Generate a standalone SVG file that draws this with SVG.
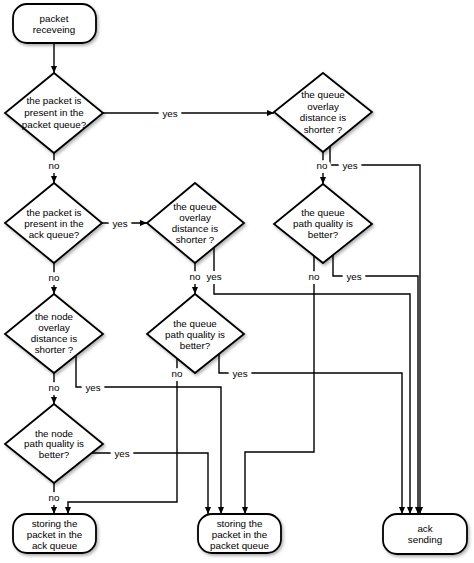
<svg xmlns="http://www.w3.org/2000/svg" width="474" height="563" viewBox="0 0 474 563">
<style>
.n{fill:#fff;stroke:#000;stroke-width:1.8;filter:url(#sh)}
.t{font-family:"Liberation Sans",Arial,sans-serif;font-size:9.8px;fill:#000;text-anchor:middle}
.c{fill:none;stroke:#000;stroke-width:1.4}
.a{marker-end:url(#ar)}
.l{font-family:"Liberation Sans",Arial,sans-serif;font-size:9.8px;fill:#000;text-anchor:middle;stroke:#fff;stroke-width:8px;stroke-linejoin:round;paint-order:stroke}
</style>
<defs>
<filter id="sh" x="-20%" y="-20%" width="140%" height="140%">
<feDropShadow dx="1.5" dy="2" stdDeviation="1.5" flood-color="#000" flood-opacity="0.3"/>
</filter>
<marker id="ar" markerUnits="userSpaceOnUse" markerWidth="8" markerHeight="7" refX="7.5" refY="3.25" orient="auto">
<path d="M0,0 L7.5,3.25 L0,6.5 z" fill="#000"/>
</marker>
</defs>
<rect width="474" height="563" fill="#fff"/>
<g id="connectors">
<path class="c a" d="M54,43 V73"/>
<path class="c a" d="M103,113 H274"/>
<path class="c a" d="M54,153 V183"/>
<path class="c a" d="M102,223 H147"/>
<path class="c a" d="M54,263 V294"/>
<path class="c a" d="M54,373 V404"/>
<path class="c a" d="M76,355.5 V387 H221 V514"/>
<path class="c a" d="M92,453 H208 V514"/>
<path class="c a" d="M54,483 V514"/>
<path class="c a" d="M323,152 V184"/>
<path class="c a" d="M330,146 V165 H420 V514"/>
<path class="c a" d="M314,256 V452 H245 V514"/>
<path class="c a" d="M333,255 V276 H418 V514"/>
<path class="c a" d="M195,263 V294"/>
<path class="c a" d="M214,247.5 V294 H410 V514"/>
<path class="c a" d="M177,358 V502 H68 V514"/>
<path class="c a" d="M219,354 V373 H402 V514"/>
<text class="l" x="170" y="116.5">yes</text>
<text class="l" x="54" y="168.5">no</text>
<text class="l" x="120" y="226.5">yes</text>
<text class="l" x="54" y="280.5">no</text>
<text class="l" x="54" y="390.5">no</text>
<text class="l" x="93" y="390.5">yes</text>
<text class="l" x="122" y="456.5">yes</text>
<text class="l" x="54" y="500.5">no</text>
<text class="l" x="322" y="168.5">no</text>
<text class="l" x="350" y="168.5">yes</text>
<text class="l" x="314" y="279.5">no</text>
<text class="l" x="354" y="279.5">yes</text>
<text class="l" x="195" y="279.5">no</text>
<text class="l" x="214" y="279.5">yes</text>
<text class="l" x="177" y="376.5">no</text>
<text class="l" x="240" y="376.5">yes</text>
</g>
<g id="start">
<rect class="n" x="13" y="4" width="83" height="39" rx="14"/>
<text class="t" x="54" y="21.5">packet</text>
<text class="t" x="54" y="32.5">receveing</text>
</g>
<g id="d1">
<path class="n" d="M54,73 L103,113 L54,153 L5,113 Z"/>
<text class="t" x="54" y="103.5">the packet is</text>
<text class="t" x="54" y="115.5">present in the</text>
<text class="t" x="54" y="127.5">packet queue?</text>
</g>
<g id="d2">
<path class="n" d="M54,183 L102,223 L54,263 L5,223 Z"/>
<text class="t" x="54" y="215.5">the packet is</text>
<text class="t" x="54" y="226.5">present in the</text>
<text class="t" x="54" y="237.5">ack queue?</text>
</g>
<g id="d3">
<path class="n" d="M54,294 L103,334 L54,373 L5,334 Z"/>
<text class="t" x="54" y="320">the node</text>
<text class="t" x="54" y="331">overlay</text>
<text class="t" x="54" y="342">distance is</text>
<text class="t" x="54" y="353">shorter ?</text>
</g>
<g id="d4">
<path class="n" d="M54,404 L103,444 L54,483 L5,444 Z"/>
<text class="t" x="54" y="436.5">the node</text>
<text class="t" x="54" y="447">path quality is</text>
<text class="t" x="54" y="457.5">better?</text>
</g>
<g id="dm1">
<path class="n" d="M195,183 L244,223 L195,263 L147,223 Z"/>
<text class="t" x="195" y="210">the queue</text>
<text class="t" x="195" y="221">overlay</text>
<text class="t" x="195" y="232">distance is</text>
<text class="t" x="195" y="243">shorter ?</text>
</g>
<g id="dm2">
<path class="n" d="M195,294 L244,334 L195,373 L147,334 Z"/>
<text class="t" x="195" y="326.5">the queue</text>
<text class="t" x="195" y="337.5">path quality is</text>
<text class="t" x="195" y="348.5">better?</text>
</g>
<g id="dr1">
<path class="n" d="M323,73 L372,112 L323,152 L274,112 Z"/>
<text class="t" x="323" y="98">the queue</text>
<text class="t" x="323" y="109.5">overlay</text>
<text class="t" x="323" y="121">distance is</text>
<text class="t" x="323" y="132.5">shorter ?</text>
</g>
<g id="dr2">
<path class="n" d="M323,184 L372,224 L323,263 L274,224 Z"/>
<text class="t" x="323" y="215.5">the queue</text>
<text class="t" x="323" y="226.5">path quality is</text>
<text class="t" x="323" y="237.5">better?</text>
</g>
<g id="store-ack">
<rect class="n" x="13" y="514" width="83" height="39" rx="14"/>
<text class="t" x="54.5" y="526.5">storing the</text>
<text class="t" x="54.5" y="537.5">packet in the</text>
<text class="t" x="54.5" y="548.5">ack queue</text>
</g>
<g id="store-packet">
<rect class="n" x="198" y="514" width="83" height="39" rx="14"/>
<text class="t" x="239.5" y="526.5">storing the</text>
<text class="t" x="239.5" y="537.5">packet in the</text>
<text class="t" x="239.5" y="548.5">packet queue</text>
</g>
<g id="ack-send">
<rect class="n" x="383" y="514" width="84" height="40" rx="14"/>
<text class="t" x="425" y="532">ack</text>
<text class="t" x="425" y="543">sending</text>
</g>
</svg>
